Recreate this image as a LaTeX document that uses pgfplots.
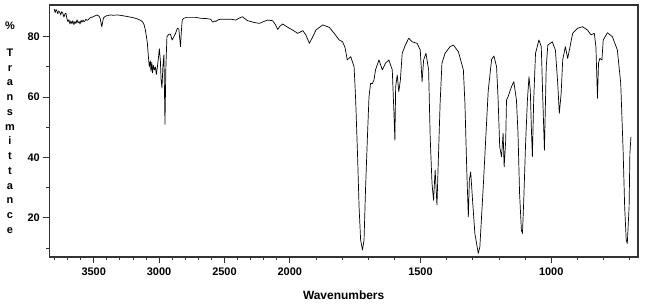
\documentclass[border=0pt]{standalone}
\usepackage{fontspec}
\setmainfont{Liberation Sans}
\usepackage{pgfplots}
\pgfplotsset{compat=1.18}
\newcommand{\lab}{\bfseries\fontsize{11}{13}\selectfont}
\begin{document}
\begin{tikzpicture}
\begin{axis}[
  scale only axis,
  width=588.7bp, height=252bp,
  x dir=reverse,
  x coord trafo/.code={\pgfmathparse{#1>2000 ? 1000+#1/2 : #1}},
  xmin=668, xmax=3840,
  ymin=7, ymax=90.5,
  xtick={1000,1500,2000,2500,3000,3500},
  xticklabels={1000,1500,2000,2500,3000,3500},
  minor xtick={700,800,900,1100,1200,1300,1400,1600,1700,1800,1900,2100,2200,2300,2400,2600,2700,2800,2900,3100,3200,3300,3400,3600,3700,3800},
  ytick={20,40,60,80},
  minor ytick={10,30,50,70},
  tick align=outside,
  major tick length=6bp,
  minor tick length=3bp,
  xtick pos=bottom, ytick pos=left,
  tick style={black!80, line width=0.8bp},
  axis line style={black!80, line width=1.3bp},
  /pgf/number format/assume math mode=true,
  tick label style={font=\lab},
  xticklabel style={yshift=-1.5bp},
  xlabel={Wavenumbers},
  xlabel style={font=\bfseries\fontsize{12}{14}\selectfont, at={(axis description cs:0.5,-0.151)}, anchor=center},
  clip=false,
]
\addplot[black, line width=0.7bp, line join=round] table {
3803 89.2
3795 88.0
3788 89.0
3782 88.6
3775 87.6
3768 88.5
3759 88.0
3752 87.2
3745 88.3
3736 87.7
3728 86.5
3720 87.6
3713 87.8
3705 86.0
3698 85.0
3690 85.6
3682 84.2
3675 85.2
3667 84.3
3660 85.3
3652 84.0
3644 85.0
3636 84.4
3628 85.6
3620 84.6
3612 85.0
3605 84.2
3597 85.4
3590 84.8
3582 85.5
3575 85.0
3567 85.2
3560 85.8
3552 85.4
3544 85.6
3530 86.2
3518 86.4
3505 86.6
3490 86.9
3475 87.2
3460 86.8
3450 86.0
3442 84.0
3438 83.3
3432 84.8
3425 86.3
3405 86.9
3390 87.0
3375 87.2
3350 87.1
3320 87.2
3298 87.1
3259 86.8
3221 86.5
3190 86.2
3167 85.9
3145 85.5
3128 85.0
3115 84.0
3105 82.2
3095 79.5
3090 78.0
3082 73.5
3075 70.0
3067 72.0
3062 68.5
3056 71.5
3050 68.0
3044 70.5
3036 69.0
3028 70.0
3021 67.5
3013 70.0
3005 73.0
2998 76.0
2990 72.0
2985 66.0
2978 63.0
2971 70.0
2963 74.0
2958 60.0
2955 51.0
2951 62.0
2948 70.0
2940 80.0
2925 80.8
2913 80.8
2900 78.9
2887 80.0
2875 81.0
2860 82.8
2849 82.5
2840 78.5
2836 76.7
2830 81.5
2823 85.5
2811 86.1
2790 86.4
2759 86.4
2720 86.4
2682 86.1
2640 86.0
2605 85.8
2590 84.8
2575 85.2
2567 85.0
2548 85.6
2528 85.8
2490 85.8
2452 85.8
2413 85.5
2385 86.2
2362 86.6
2345 86.0
2323 85.3
2280 84.8
2234 84.4
2200 85.0
2169 85.5
2131 85.3
2110 84.0
2092 82.4
2075 83.5
2054 84.2
2030 83.5
2003 82.8
1985 82.0
1970 81.1
1950 82.0
1938 80.5
1925 77.8
1912 80.0
1900 82.2
1874 83.9
1849 83.1
1830 81.1
1811 78.9
1798 78.3
1789 76.5
1780 72.3
1767 73.4
1754 70.0
1748 59.0
1741 41.3
1735 23.6
1729 12.6
1722 9.3
1716 12.6
1710 30.2
1703 46.8
1697 60.1
1691 64.5
1684 64.5
1678 65.6
1672 69.0
1659 72.3
1646 69.0
1634 71.2
1621 72.3
1608 69.0
1602 55.7
1598 45.7
1595 63.4
1589 67.3
1583 61.8
1577 65.6
1570 74.5
1558 77.2
1545 79.5
1532 78.3
1513 77.8
1501 75.6
1494 65.1
1488 72.3
1479 74.5
1469 69.0
1463 46.8
1456 31.4
1450 25.8
1444 35.8
1437 24.2
1431 41.3
1425 57.9
1418 71.2
1406 74.5
1387 76.7
1374 77.2
1355 75.0
1336 69.0
1330 57.9
1323 35.8
1317 20.3
1313 32.5
1308 35.2
1300 24.7
1292 14.8
1279 8.2
1273 10.3
1260 30.2
1250 47.0
1241 62.0
1228 72.5
1219 73.6
1209 70.0
1203 59.0
1197 43.5
1190 40.2
1184 48.0
1180 36.9
1174 45.7
1171 59.0
1165 60.1
1152 63.4
1143 65.1
1133 59.0
1127 48.0
1121 28.1
1114 15.9
1110 14.8
1105 25.8
1098 44.6
1091 59.0
1085 66.7
1080 62.3
1076 50.0
1072 40.2
1067 59.0
1060 74.5
1047 78.9
1038 76.7
1032 59.0
1026 42.4
1019 70.0
1013 77.2
1004 77.8
996 78.3
984 75.6
975 64.5
969 54.6
962 61.2
956 72.3
946 76.7
937 72.8
928 76.7
918 81.1
899 82.8
880 83.3
861 82.2
848 80.6
835 81.1
829 76.7
823 59.6
819 71.2
814 72.8
806 72.3
801 78.9
785 81.3
766 80.0
747 75.6
734 64.5
725 42.4
719 23.6
713 12.6
709 11.5
702 23.6
699 41.3
695 46.8
};
\node[font=\lab] at (axis description cs:-0.0668,0.917) {\%};
\node[font=\bfseries\fontsize{11}{14.8}\selectfont, align=center] at (axis description cs:-0.0668,0.46) {T\\r\\a\\n\\s\\m\\i\\t\\t\\a\\n\\c\\e};
\end{axis}
\pgfresetboundingbox
\path ([shift={(-49.3bp,-48bp)}]current axis.south west) rectangle ([shift={(12bp,5bp)}]current axis.north east);
\end{tikzpicture}
\end{document}
